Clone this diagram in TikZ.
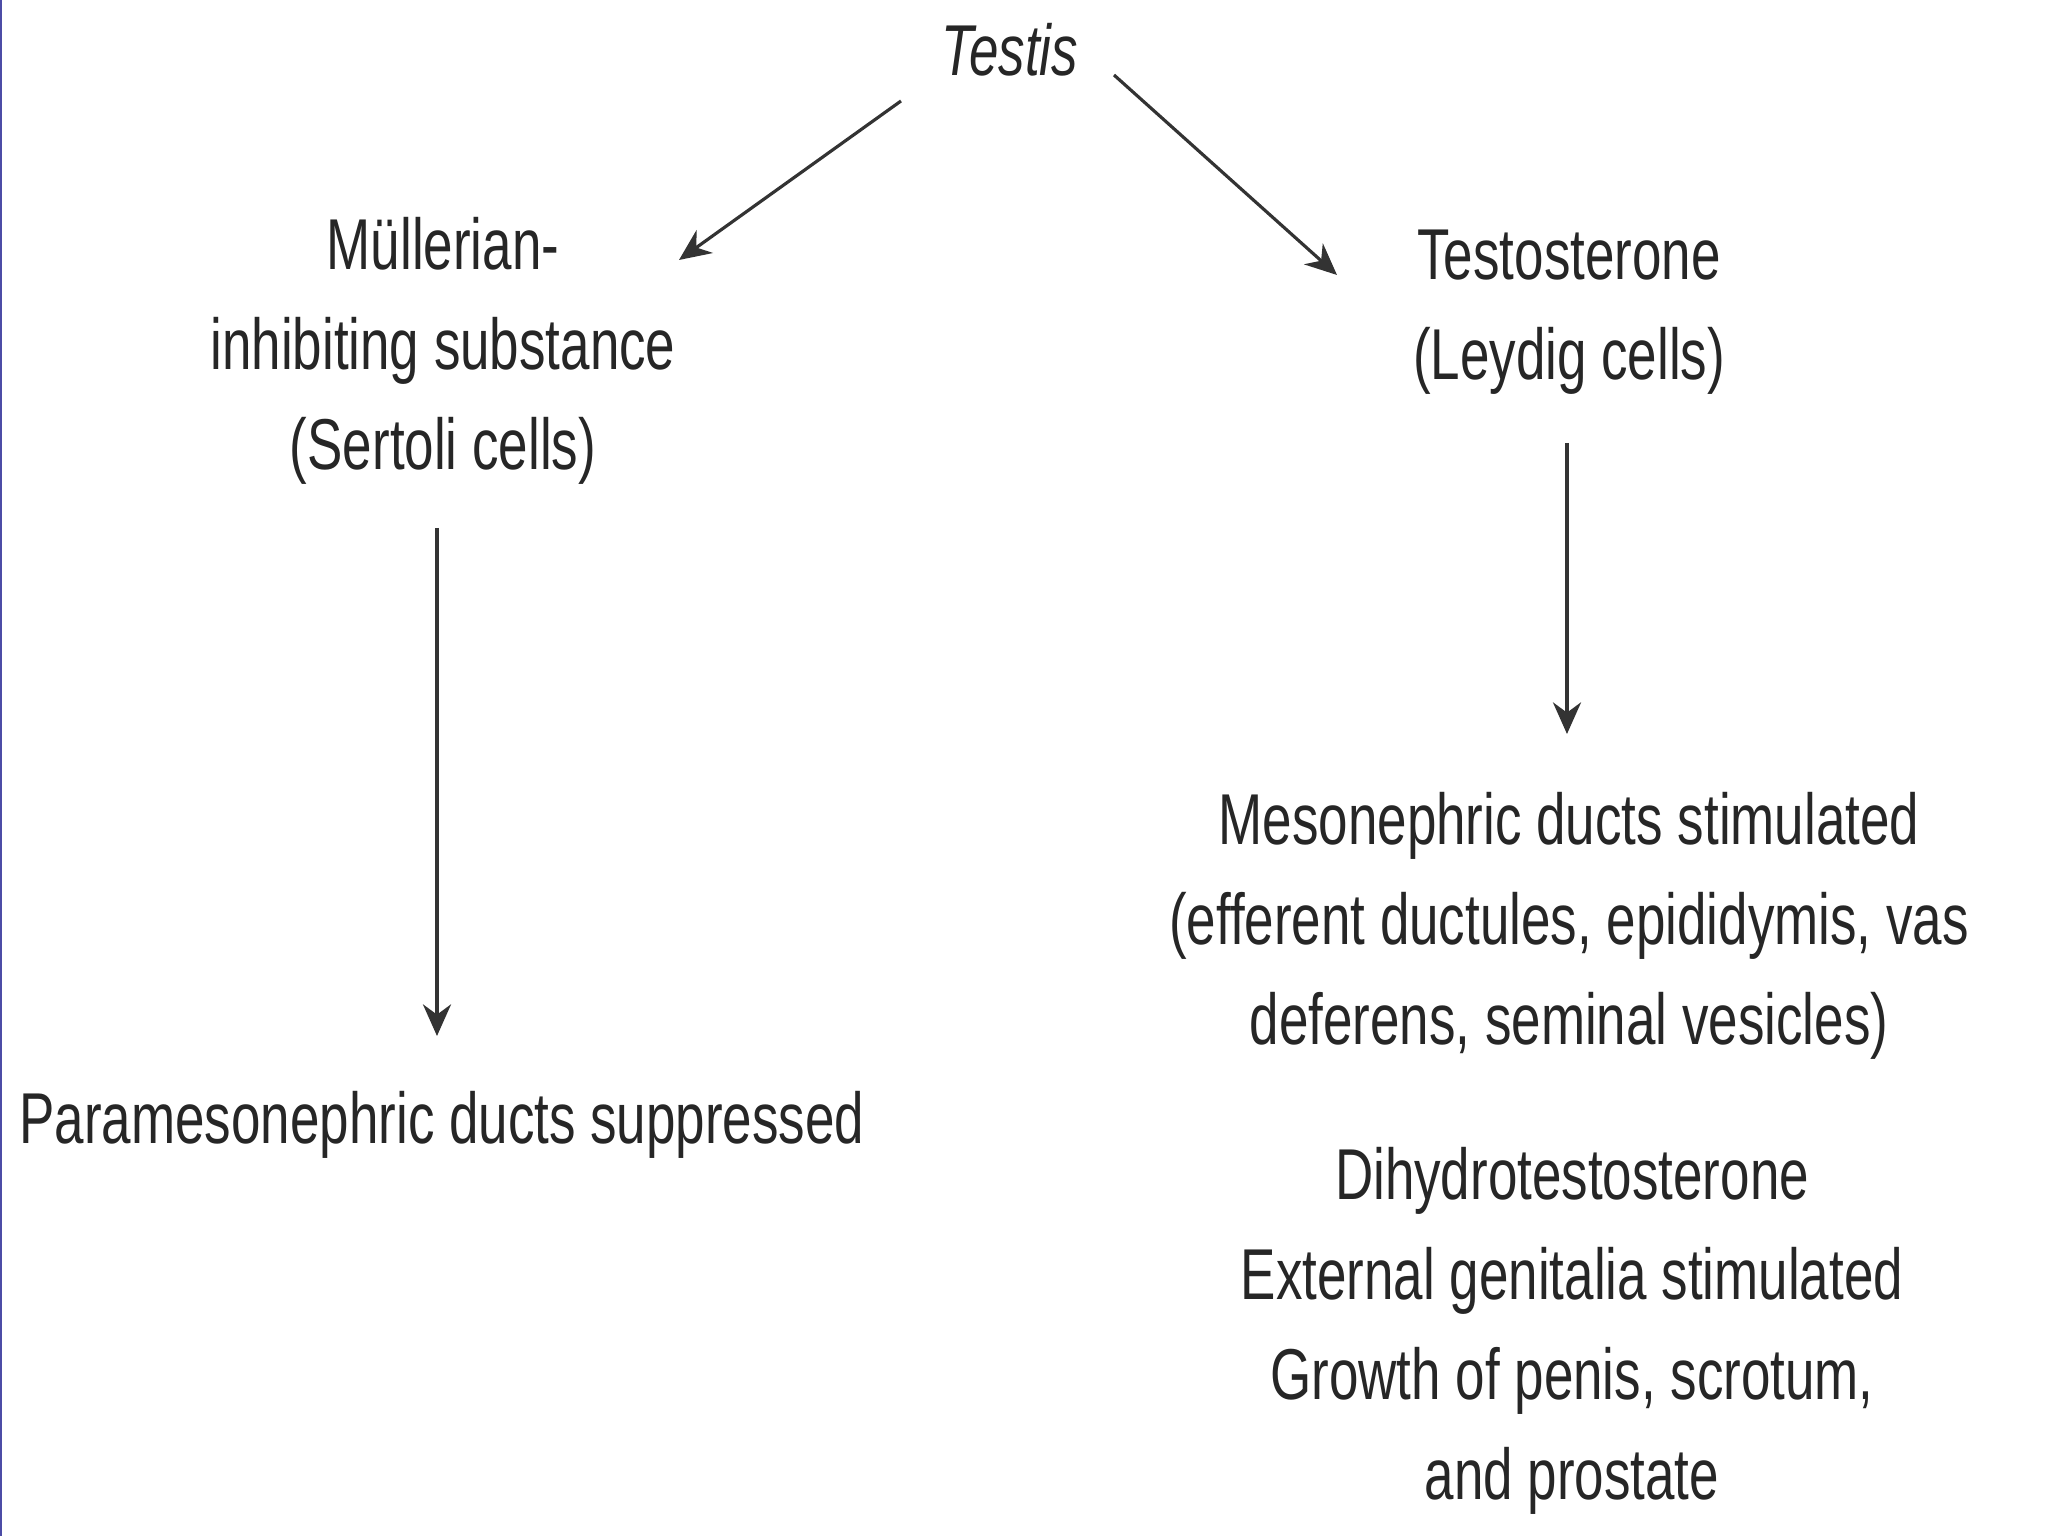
\documentclass[tikz,border=0pt]{standalone}
\usepackage{fontspec}
\setmainfont{Liberation Sans}[FakeStretch=0.735]
\usetikzlibrary{arrows.meta}
\begin{document}
\begin{tikzpicture}[x=1cm,y=1cm,
    lbl/.style={align=center,inner sep=0pt,font=\fontsize{20.5}{28.5}\selectfont,text=black!85},
    arr/.style={-{Stealth[length=9pt,width=8pt]},line width=0.9pt,black!80}]
    \useasboundingbox (0,0) rectangle (20.48,15.36);
    \draw [blue!50!black!70,line width=0.5pt] (0.01,0) -- (0.01,15.36);
    % labels
    \node [lbl] (testis) at (10.1,14.86) {\itshape Testis};
    \node [lbl] (mis) at (4.43,11.85) {Müllerian-\\inhibiting substance\\(Sertoli cells)};
    \node [lbl] (testo) at (15.69,12.24) {Testosterone\\(Leydig cells)};
    \node [lbl] (para) at (4.42,4.11) {Paramesonephric ducts suppressed};
    \node [lbl] (meso) at (15.69,6.10) {Mesonephric ducts stimulated\\(efferent ductules, epididymis, vas\\deferens, seminal vesicles)};
    \node [lbl] (dht) at (15.72,2.05) {Dihydrotestosterone\\External genitalia stimulated\\Growth of penis, scrotum,\\and prostate};
    % arrow ends
    \coordinate (t1) at (9.01,14.35);
    \coordinate (m1) at (6.79,12.76);
    \coordinate (t2) at (11.14,14.61);
    \coordinate (s1) at (13.37,12.61);
    \coordinate (m2) at (4.37,10.08);
    \coordinate (p1) at (4.37,5.00);
    \coordinate (s2) at (15.67,10.93);
    \coordinate (e1) at (15.67,8.02);
    \draw [arr] (t1) -- (m1);
    \draw [arr] (t2) -- (s1);
    \draw [arr] (m2) -- (p1);
    \draw [arr] (s2) -- (e1);
\end{tikzpicture}
\end{document}
